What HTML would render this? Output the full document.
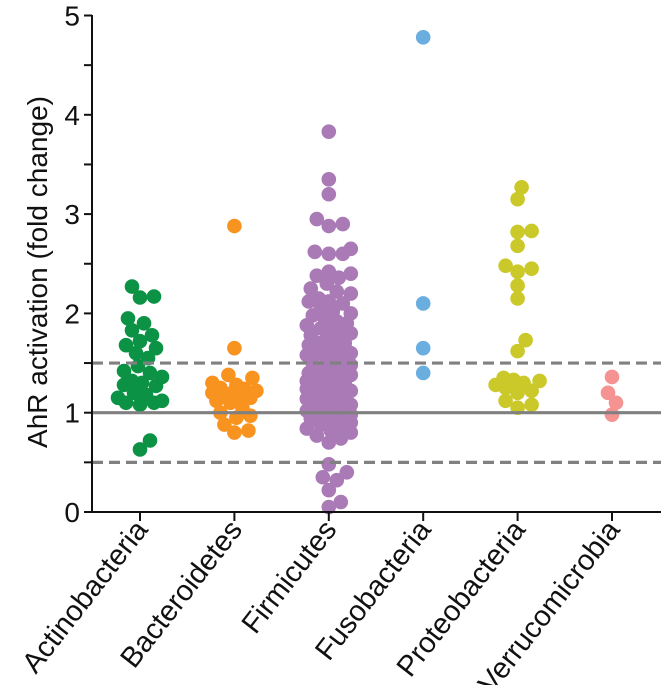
<!DOCTYPE html>
<html><head><meta charset="utf-8"><style>
html,body{margin:0;padding:0;background:#fff;width:661px;height:685px;overflow:hidden}
svg text{font-family:"Liberation Sans",Arial,sans-serif;fill:#111}
</style></head><body>
<svg id="chart" width="661" height="685" viewBox="0 0 661 685" xmlns="http://www.w3.org/2000/svg">
<g id="points"></g>
<g id="refs"></g>
<g id="axes"></g>
<text transform="translate(47,272) rotate(-90)" text-anchor="middle" font-size="28" textLength="352" lengthAdjust="spacingAndGlyphs">AhR activation (fold change)</text>
</svg>
<script>
const categories = ["Actinobacteria","Bacteroidetes","Firmicutes","Fusobacteria","Proteobacteria","Verrucomicrobia"];
const colors = ["#0b9245","#f7931e","#a97ab5","#6aaee0","#cbc82a","#f49392"];
const actinoValues = [2.27,2.17,2.16,1.95,1.9,1.83,1.78,1.72,1.65,1.6,1.55,1.68,1.47,1.42,1.4,1.36,1.32,1.3,1.28,1.27,1.2,1.18,1.15,1.12,1.1,1.08,1.1,0.72,0.63];
const bacteroValues = [2.88,1.65,1.38,1.35,1.3,1.28,1.25,1.24,1.22,1.2,1.2,1.18,1.15,1.15,1.12,1.1,1.05,1.0,0.97,0.95,0.88,0.82,0.8];
const firmicutesValues = [3.83,3.35,3.2,2.95,2.9,2.88,2.65,2.62,2.6,2.6,2.42,2.4,2.38,2.36,2.3,2.25,2.22,2.2,2.15,2.12,2.12,2.1,2.05,2.02,2.0,1.98,1.95,1.92,1.9,1.88,1.85,1.82,1.8,1.78,1.75,1.72,1.7,1.68,1.66,1.62,1.6,1.58,1.55,1.52,1.5,1.48,1.46,1.44,1.42,1.4,1.38,1.36,1.34,1.32,1.3,1.28,1.26,1.24,1.22,1.2,1.18,1.16,1.14,1.12,1.1,1.08,1.06,1.04,1.02,1.0,0.98,0.96,0.94,0.92,0.9,0.88,0.86,0.84,0.82,0.8,0.77,0.74,0.7,0.48,0.4,0.35,0.32,0.22,0.1,0.05,1.7,1.5,1.3,1.15,1.0,1.85,1.6,1.4,1.2,0.95];
const fusoValues = [4.78,2.1,1.65,1.4];
const proteoValues = [3.27,3.15,2.83,2.82,2.68,2.48,2.45,2.42,2.28,2.15,1.73,1.62,1.35,1.33,1.32,1.3,1.28,1.25,1.22,1.2,1.12,1.08,1.05];
const verrucoValues = [1.36,1.2,1.1,0.98];
const seriesValues = [actinoValues,bacteroValues,firmicutesValues,fusoValues,proteoValues,verrucoValues];
const yTicks = [0,1,2,3,4,5];
const refLevels = [0.5,1,1.5];

const NS="http://www.w3.org/2000/svg";
const X0=92, Y0=512, PXU=99.3, R=7.3, MIND=12.5, MAXOFF=22;
function yScale(v){return Y0-v*PXU;}
function xScale(i){return 140+i*94.4;}
function mk(tag,attrs,parent){const e=document.createElementNS(NS,tag);for(const k in attrs)e.setAttribute(k,attrs[k]);parent.appendChild(e);return e;}
const gp=document.getElementById('points'), gr=document.getElementById('refs'), ga=document.getElementById('axes');

seriesValues.forEach((vals,ci)=>{
  const cx=xScale(ci);
  const placed=[];
  const sorted=vals.slice().sort((a,b)=>a-b);
  sorted.forEach(v=>{
    const y=yScale(v);
    let best=null, bestScore=-1, bestOff=0;
    for(let k=0;k<=MAXOFF;k++){
      const off=(k%2?1:-1)*Math.ceil(k/2)*2;
      if(Math.abs(off)>MAXOFF) continue;
      let md=1e9;
      placed.forEach(p=>{const d=Math.hypot(p.x-off,p.y-y);if(d<md)md=d;});
      if(md>=MIND){best=off;break;}
      if(md>bestScore){bestScore=md;bestOff=off;}
    }
    if(best===null) best=bestOff;
    placed.push({x:best,y:y});
    const c=mk('circle',{cx:cx+best,cy:y,r:R,fill:colors[ci]},gp);
    
    
  });
});

refLevels.forEach(l=>{
  const ln=mk('line',{x1:X0,x2:661,y1:yScale(l),y2:yScale(l),stroke:'#808080','stroke-width':3.2},gr);
  if(l!==1) ln.setAttribute('stroke-dasharray','11 6');
  
  
});

mk('line',{x1:X0,x2:X0,y1:15,y2:Y0+1,stroke:'#111','stroke-width':2},ga);
mk('line',{x1:84,x2:661,y1:Y0,y2:Y0,stroke:'#111','stroke-width':2},ga);
for(let v=0;v<=5;v+=0.5){mk('line',{x1:84,x2:X0,y1:yScale(v),y2:yScale(v),stroke:'#111','stroke-width':2},ga);}
yTicks.forEach(t=>{
  const tx=mk('text',{x:80,y:yScale(t)+10,'text-anchor':'end','font-size':28},ga);
  tx.textContent=t;
  
  
});
categories.forEach((c,i)=>{
  const x=xScale(i);
  mk('line',{x1:x,x2:x,y1:Y0,y2:Y0+9,stroke:'#111','stroke-width':2},ga);
  const tx=mk('text',{transform:`translate(${x+9},${Y0+18}) rotate(-52)`,'text-anchor':'end','font-size':29},ga);
  tx.textContent=c;
  
  
});
</script>
</body></html>
